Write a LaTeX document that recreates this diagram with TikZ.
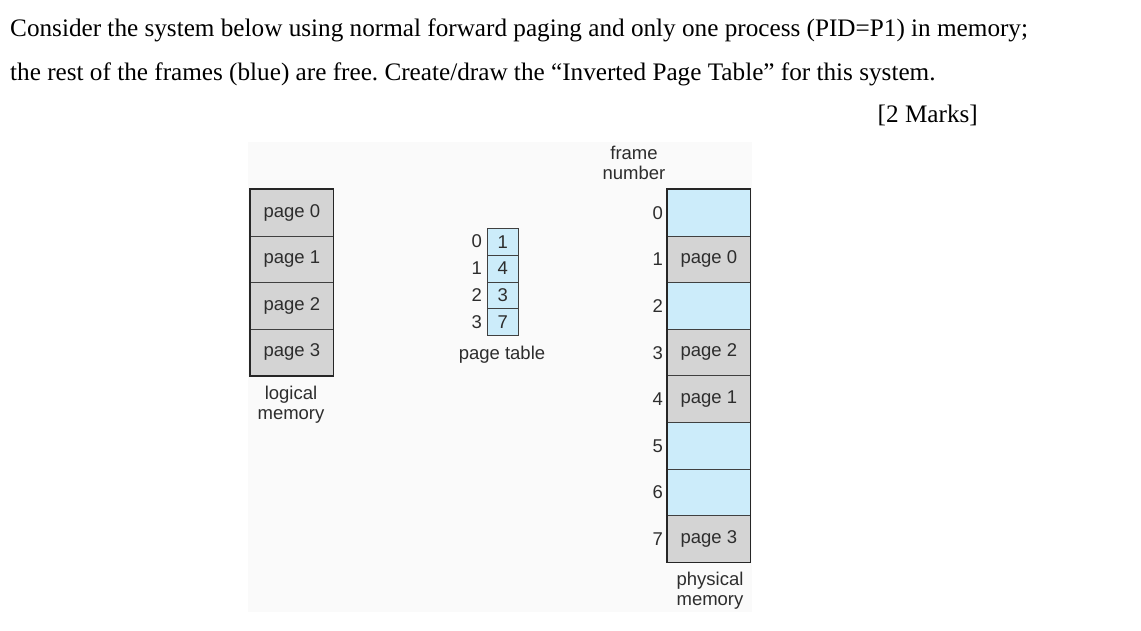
\documentclass[tikz,border=0pt]{standalone}
\usepackage{fontspec}
\setmainfont{Liberation Serif}
\newfontfamily\diagfont{Liberation Sans}
\definecolor{pggray}{RGB}{212,212,212}
\definecolor{frblue}{RGB}{204,236,250}
\definecolor{txt}{RGB}{45,45,45}
\definecolor{figbg}{RGB}{250,250,250}
\begin{document}
\begin{tikzpicture}[x=1pt,y=-1pt,
  qtext/.style={font=\fontsize{25.2}{30}\selectfont, text=black, inner sep=0},
  lbl/.style={font=\diagfont\fontsize{18.5}{20}\selectfont, text=txt, inner sep=0, align=center},
  cell/.style={draw=black!75, line width=0.7pt, minimum width=83pt, minimum height=46.6pt,
    inner sep=0, font=\diagfont\fontsize{18.5}{20}\selectfont, text=txt, anchor=north west},
  ptcell/.style={draw=black!75, line width=0.7pt, minimum width=31pt, minimum height=26.75pt,
    inner sep=0, fill=frblue, font=\diagfont\fontsize{18.5}{20}\selectfont, text=txt, anchor=north west},
  num/.style={font=\diagfont\fontsize{18.5}{20}\selectfont, text=txt, inner sep=0, anchor=east},
  outer/.style={draw=black!85, line width=1.3pt}]
\useasboundingbox (0,0) rectangle (1141,630);
\fill[white] (0,0) rectangle (1141,630);
\fill[figbg] (248,142) rectangle (752,612);

% question text
\node[qtext, anchor=base west] (q1) at (10,36) {Consider the system below using normal forward paging and only one process (PID=P1) in memory;};
\node[qtext, anchor=base west] (q2) at (10,80) {the rest of the frames (blue) are free.\ Create/draw the “Inverted Page Table” for this system.};
\node[qtext, anchor=base east] (q3) at (978,122) {[2 Marks]};

% logical memory
\foreach \i in {0,...,3}{
  \node[cell, fill=pggray] (lp\i) at (250,{189+46.6*\i}) {page \i};
}
\draw[outer] (lp0.north west) rectangle (lp3.south east);
\node[lbl, anchor=north] (lm) at (291,386) {logical\\memory};

% page table
\foreach \i/\v in {0/1,1/4,2/3,3/7}{
  \node[ptcell] (pt\i) at (487,{228+26.75*\i}) {\v};
  \node[num] (pi\i) at (482,{241.4+26.75*\i}) {\i};
}
\node[lbl, anchor=north] (ptl) at (502,346) {page table};

% physical memory
\foreach \i/\c/\t in {0/frblue/,1/pggray/page 0,2/frblue/,3/pggray/page 2,4/pggray/page 1,5/frblue/,6/frblue/,7/pggray/page 3}{
  \node[cell, fill=\c] (pf\i) at (667,{189+46.6*\i}) {\t};
  \node[num] (fn\i) at (663,{213+46.6*\i}) {\i};
}
\draw[outer] (pf0.north west) rectangle (pf7.south east);
\node[lbl, anchor=north] (fnl) at (634,146) {frame\\number};
\node[lbl, anchor=north] (pm) at (710,572) {physical\\memory};
\end{tikzpicture}
\end{document}
